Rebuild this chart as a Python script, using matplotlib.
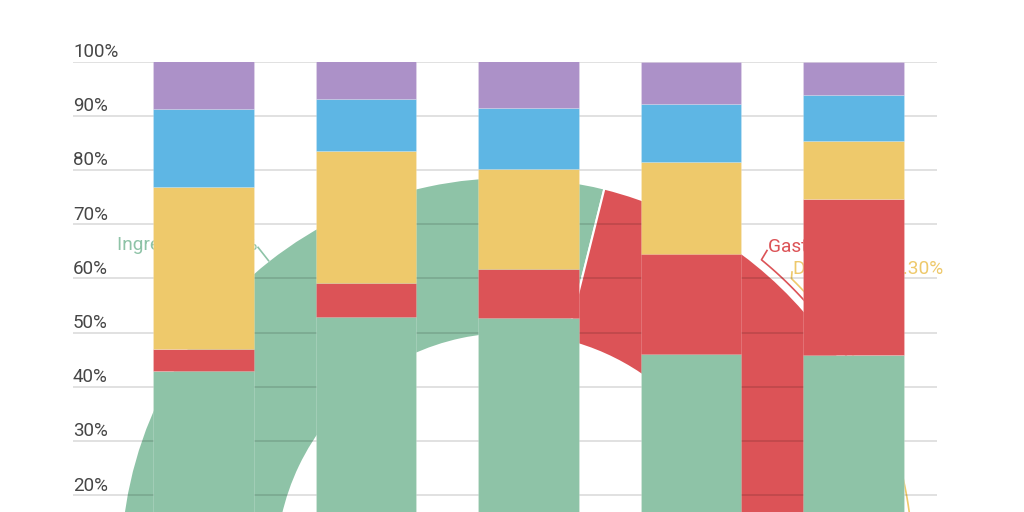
import numpy as np
import matplotlib
matplotlib.use('Agg')
import matplotlib.pyplot as plt

plt.rcParams['font.family'] = ['Roboto', 'DejaVu Sans']

# categories and series (percent of each year's total)
years = ['2019', '2020', '2021', '2022', '2023']
series = ['Ingresos', 'Gastos', 'Dividendos', 'Ahorros', 'Otros']
colors = ['#8ec3a7', '#dc5357', '#eec96b', '#5eb6e4', '#ac91c8']

ingresos = [42.9, 52.9, 52.6, 46.0, 45.8]
gastos = [4.0, 6.2, 9.1, 18.5, 28.9]
dividendos = [29.9, 24.3, 18.5, 17.0, 10.6]
ahorros = [14.4, 9.7, 11.3, 10.6, 8.6]
otros = [8.8, 6.9, 8.5, 7.9, 6.1]

# share of the whole period (background donut)
pie_share = [29.03, 44.62, 9.30, 10.45, 6.60]

y_ticks = [0, 10, 20, 30, 40, 50, 60, 70, 80, 90, 100]
y_tick_labels = [f'{v}%' for v in y_ticks]

W, H = 1024, 512
fig = plt.figure(figsize=(W / 100, H / 100), dpi=100)

# ---- donut behind everything, axes in pixel units (y up)
ax_pie = fig.add_axes([0, 0, 1, 1], zorder=0)
cx, cy = 510, H - 567
r_out, r_in = 390, 233
start = 180.5  # matplotlib angle of the first wedge edge
ax_pie.pie(pie_share, colors=colors, startangle=start, counterclock=False,
           radius=r_out, center=(cx, cy),
           wedgeprops=dict(width=r_out - r_in, edgecolor='white', linewidth=1.5))
ax_pie.set_xlim(0, W)
ax_pie.set_ylim(0, H)
ax_pie.set_aspect('auto')
ax_pie.axis('off')


def polar(theta_cw, r):
    # theta measured clockwise from the top
    t = np.radians(theta_cw)
    return cx + r * np.sin(t), cy + r * np.cos(t)


frac = np.array(pie_share) / np.sum(pie_share)
cum = np.concatenate([[0], np.cumsum(frac)[:-1]])
mid_cw = (90 - start) + 360 * (cum + frac / 2)

label_size = 13.8

# Ingresos label: straight leader from the wedge middle
x0, y0 = polar(mid_cw[0], r_out)
x1, y1 = polar(mid_cw[0], r_out + 17)
ax_pie.plot([x0, x1], [y0, y1], color=colors[0], lw=1.2)
ax_pie.text(x1 - 1, H - 250, f'{series[0]} {pie_share[0]:.2f}%', color=colors[0],
            fontsize=label_size, ha='right', va='baseline')

# Gastos and Dividendos labels were pushed up; leaders run along the rim
for k, (lab_x, lab_y, r_lead, a0, a1) in zip(
        [1, 2], [(768, 252.5, r_out + 7, 39.3, 80), (793, 274, r_out + 13, 44.3, 100)]):
    th = np.linspace(a0, a1, 60)
    ax_, ay_ = polar(th, r_lead)
    tx, ty = lab_x - 1, H - (lab_y - 2)
    ax_pie.plot(np.concatenate([[tx], ax_]), np.concatenate([[ty], ay_]),
                color=colors[k], lw=1.2)
    ax_pie.text(lab_x, H - lab_y, f'{series[k]} {pie_share[k]:.2f}%', color=colors[k],
                fontsize=label_size, ha='left', va='baseline')

# ---- stacked 100% bars on top
top_px, zero_px = 61.5, 603.5
left_px, right_px = 73, 937
ax = fig.add_axes([left_px / W, (H - zero_px) / H, (right_px - left_px) / W,
                   (zero_px - top_px) / H], zorder=1)
ax.patch.set_alpha(0)

x = np.arange(len(years))
bottom = np.zeros(len(years))
for name, vals, col in zip(series, [ingresos, gastos, dividendos, ahorros, otros], colors):
    ax.bar(x, vals, width=0.62, bottom=bottom, color=col, label=name,
           edgecolor=(1, 1, 1, 0.25), linewidth=0.5, zorder=3)
    bottom += np.array(vals)

ax.set_xlim(-0.803, 4.514)
ax.set_ylim(0, 100)
ax.set_axisbelow(True)
ax.set_yticks(y_ticks)
ax.yaxis.grid(True, color='black', alpha=0.12, linewidth=1.4)
ax.tick_params(left=False, bottom=False, labelleft=False, labelbottom=False)
ax.set_xticks(x)
ax.set_xticklabels(years)
for s in ax.spines.values():
    s.set_visible(False)

# the lower part of the axis falls below the picture edge
for v, lab in zip(y_ticks, y_tick_labels):
    if v < 20:
        continue
    ax.annotate(lab, xy=(0, v), xycoords=('axes fraction', 'data'),
                xytext=(0, 3.2), textcoords='offset points',
                ha='left', va='baseline', fontsize=13.5, color='#464646')

fig.savefig('out.png', dpi=100)
